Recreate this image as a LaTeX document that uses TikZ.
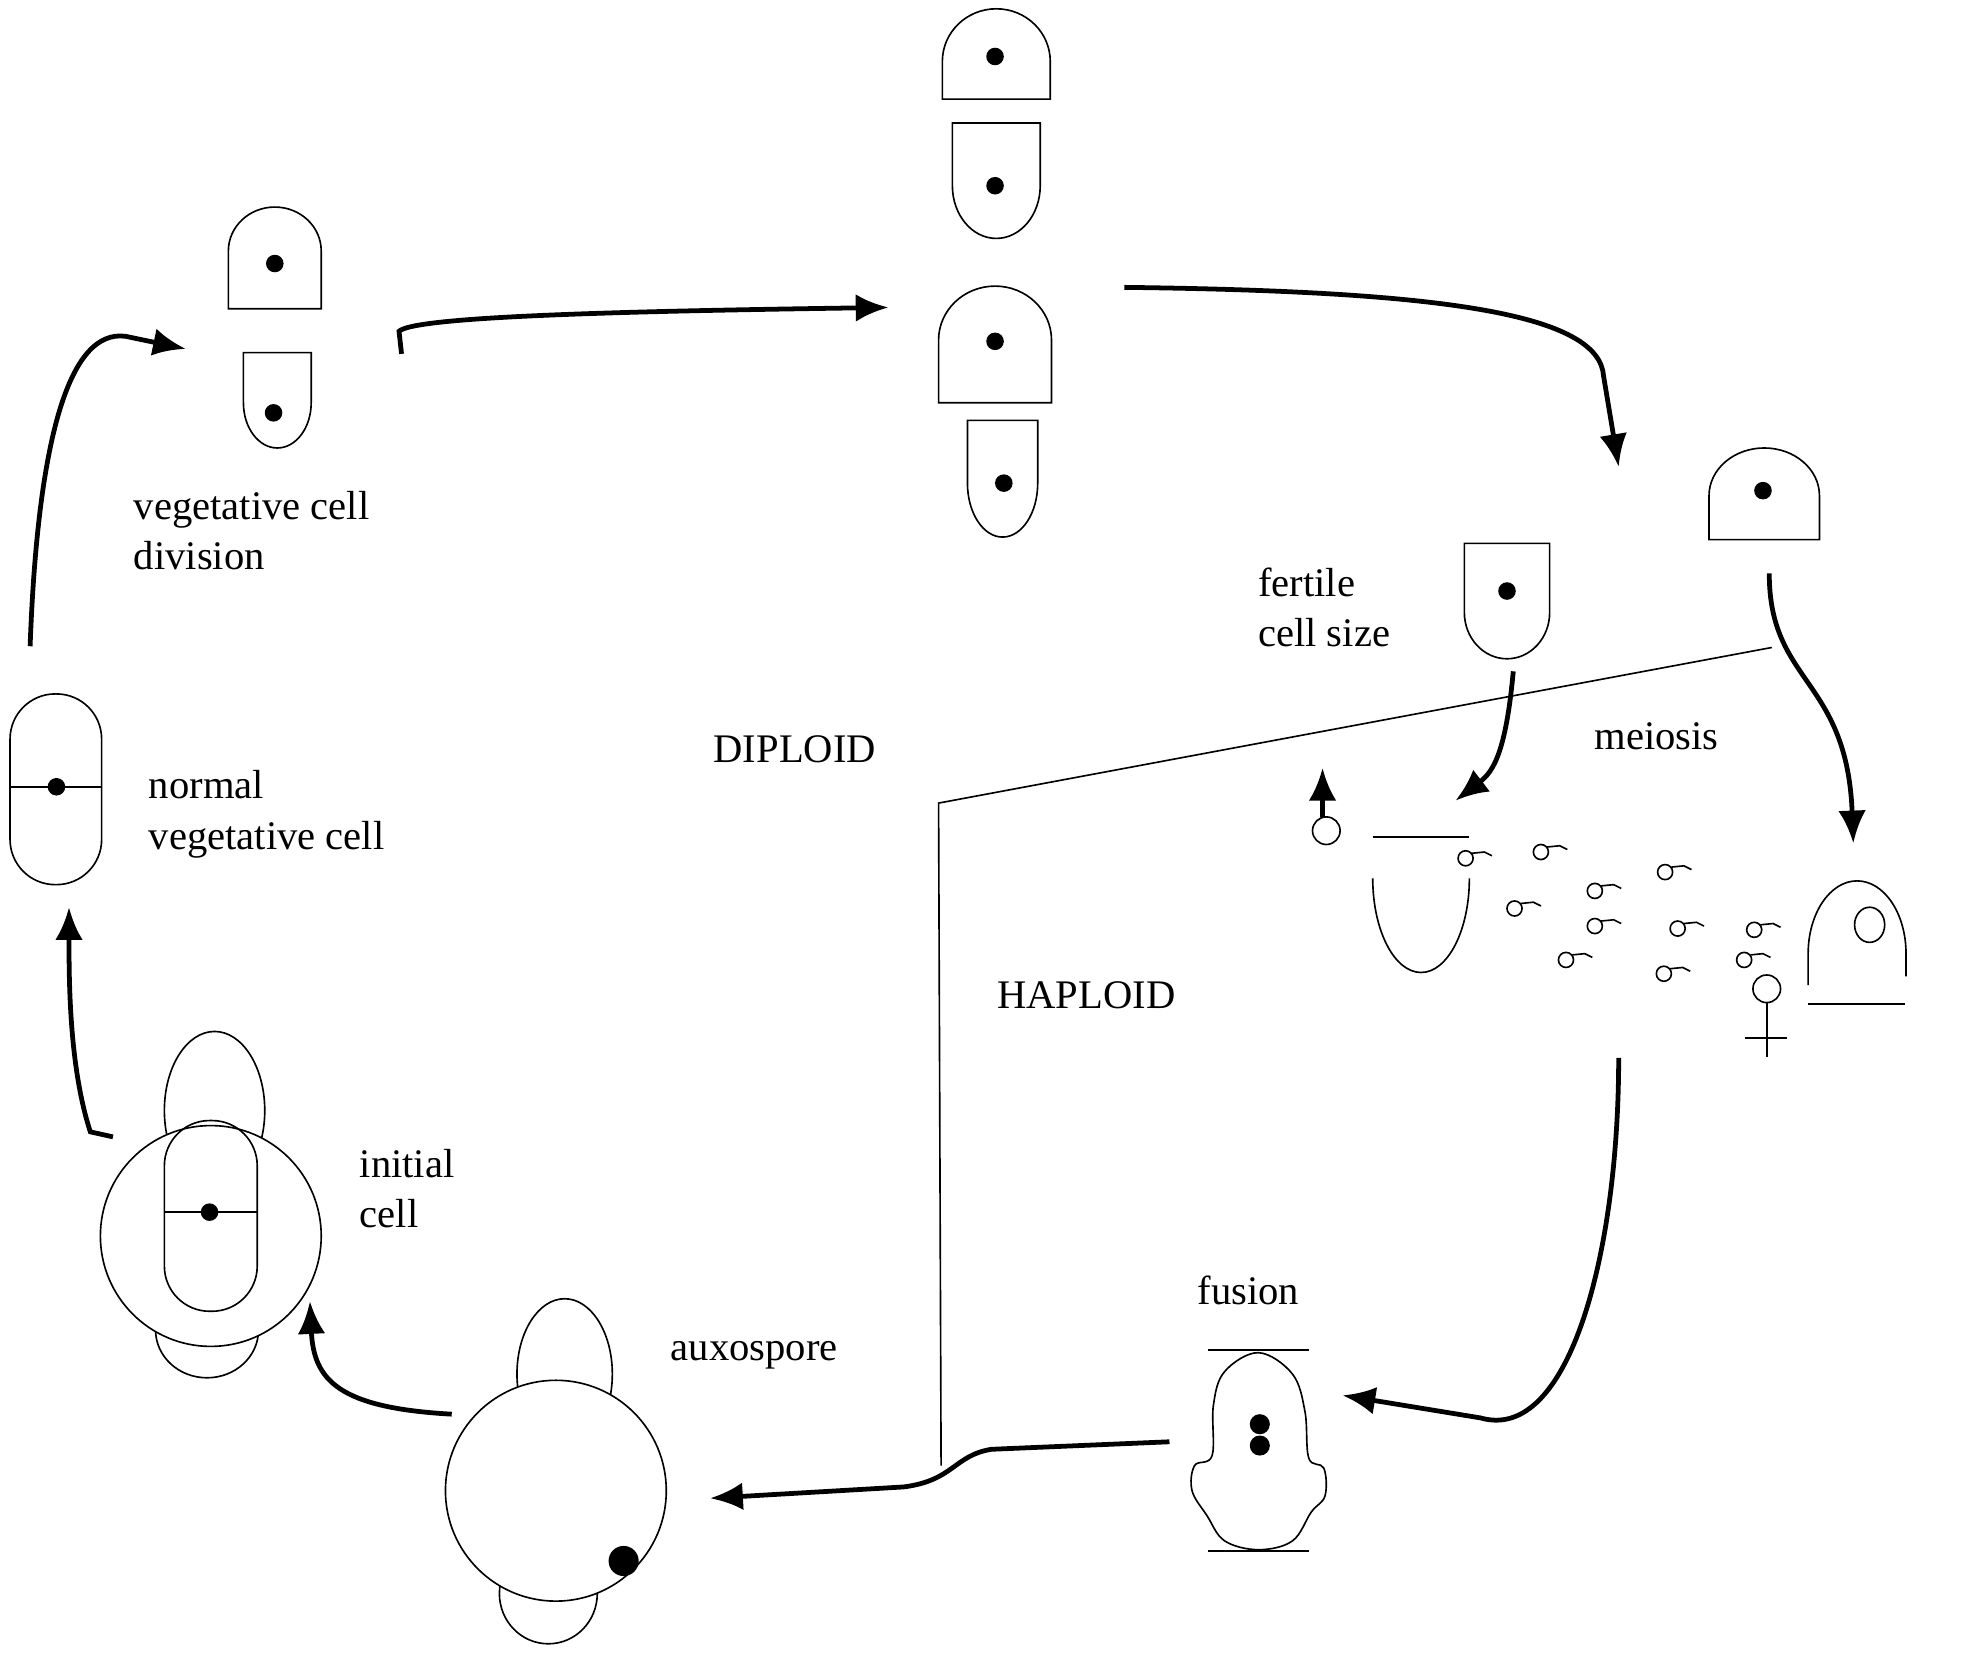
\documentclass[tikz,border=0pt]{standalone}
\usepackage{fontspec}
\setmainfont{Liberation Serif}
\usetikzlibrary{arrows.meta}
\tikzset{
  thin line/.style={line width=0.13mm},
  cycle arrow/.style={line width=0.38mm,-{Latex[length=2.6mm,width=2.2mm]}},
  lbl/.style={font=\fontsize{9.2}{11.4}\selectfont,align=left,anchor=west,inner sep=0pt},
  sperm/.pic={
    \draw[thin line] (0,0) circle (6);
    \draw[thin line] (5,-4) -- (15,-5) -- (21,-2);
  }
}
% dome cell: centre x, base y, half width, side height, dome height
\newcommand\domecell[5]{%
  \draw[thin line] (#1-#3,#2) -- (#1+#3,#2) -- (#1+#3,#2-#4)
    arc[start angle=0,end angle=-180,x radius=#3,y radius=#5] -- cycle;}
% cup cell: centre x, top y, half width, side height, cup depth
\newcommand\cupcell[5]{%
  \draw[thin line] (#1-#3,#2) -- (#1+#3,#2) -- (#1+#3,#2+#4)
    arc[start angle=0,end angle=180,x radius=#3,y radius=#5] -- cycle;}

\begin{document}
\begin{tikzpicture}[x=0.01cm,y=-0.01cm]
  \useasboundingbox (0,0) rectangle (1570,1332);

  % vegetative cell division
  \domecell{219}{246}{37}{46}{35}
  \fill (219,210) circle (7);
  \cupcell{221}{281}{27}{40}{36}
  \fill (218,329) circle (7);

  \domecell{794}{79}{43}{30}{42}
  \fill (793,45) circle (7);
  \cupcell{794}{98}{35}{50}{42}
  \fill (793,148) circle (7);
  \domecell{793}{321}{45}{50}{43}
  \fill (793,272) circle (7);
  \cupcell{799}{335}{28}{50}{43}
  \fill (800,385) circle (7);

  \domecell{1406}{430}{44}{35}{38}
  \fill (1405,391) circle (7);
  \cupcell{1201}{433}{34}{55}{37}
  \fill (1201,471) circle (7);

  % normal vegetative cell
  \draw[thin line,rounded corners=3.6mm] (8,553) rectangle (81,705);
  \draw[thin line] (8,627) -- (81,627);
  \fill (45,627) circle (7);

  % initial cell
  \draw[thin line] (171,885) ellipse [x radius=40,y radius=63];
  \draw[thin line] (165,1060) ellipse [x radius=41,y radius=38];
  \draw[thin line,fill=white] (168,985) circle (88);
  \draw[thin line,rounded corners=3.6mm] (131,893) rectangle (205,1045);
  \draw[thin line] (131,966) -- (205,966);
  \fill (167,966) circle (7);

  % auxospore
  \draw[thin line] (450,1095) ellipse [x radius=38,y radius=60];
  \draw[thin line] (437,1270) ellipse [x radius=39,y radius=40];
  \draw[thin line,fill=white] (443,1188) circle (88);
  \fill (497,1244) circle (12);

  % fusion
  \draw[thin line] (963,1076) -- (1043,1076);
  \draw[thin line] (963,1236) -- (1043,1236);
  \draw[thin line] plot[smooth cycle,tension=0.6] coordinates {
    (1003,1078) (1030,1095) (1040,1125) (1043,1162) (1055,1170) (1056,1192)
    (1045,1205) (1030,1228) (1003,1235) (976,1228) (962,1208) (950,1188)
    (952,1168) (966,1160) (967,1120) (976,1093)};
  \fill (1004,1135) circle (8);
  \fill (1004,1152) circle (8);

  % gametes
  \draw[thin line] (1057,662) circle (11);
  \draw[cycle arrow] (1054,651) -- (1054,612);
  \draw[thin line] (1094,667) -- (1171,667);
  \draw[thin line] (1171,700) arc[start angle=0,end angle=180,x radius=38.5,y radius=75];
  \draw[thin line] (1441,785) -- (1441,760)
    arc[start angle=180,end angle=360,x radius=39,y radius=58] -- (1519,778);
  \draw[thin line] (1490,737) ellipse [x radius=12,y radius=14];
  \draw[thin line] (1441,800) -- (1518,800);
  \draw[thin line] (1408,788) circle (11);
  \draw[thin line] (1408,799) -- (1408,842);
  \draw[thin line] (1391,827) -- (1424,827);
  \foreach \sx/\sy in {1168/684,1228/679,1327/695,1271/710,1207/724,1271/738,
                       1337/740,1398/741,1248/765,1390/765,1326/776}
    \pic at (\sx,\sy) {sperm};

  % ploidy boundary
  \draw[thin line] (1412,516) -- (748,640) -- (750,1168);

  % cycle arrows
  \draw[cycle arrow] (24,515) .. controls (30,350) and (55,262) .. (100,268) -- (148,278);
  \draw[cycle arrow] (320,282) -- (318,264) .. controls (330,252) and (500,248) .. (708,245);
  \draw[cycle arrow] (896,229) .. controls (1150,232) and (1275,250) .. (1278,300) -- (1290,372);
  \draw[cycle arrow] (1206,535) .. controls (1200,600) and (1190,615) .. (1160,638);
  \draw[cycle arrow] (1410,457) .. controls (1410,545) and (1472,540) .. (1477,672);
  \draw[cycle arrow] (1290,843) .. controls (1290,1000) and (1250,1150) .. (1180,1130) -- (1070,1112);
  \draw[cycle arrow] (932,1149) -- (790,1155) .. controls (760,1160) and (760,1180) .. (720,1185) -- (566,1194);
  \draw[cycle arrow] (360,1127) .. controls (270,1122) and (250,1100) .. (247,1037);
  \draw[cycle arrow] (90,906) -- (72,902) .. controls (55,850) and (55,780) .. (55,723);

  % labels
  \node[lbl] (divlbl) at (106,423) {vegetative cell\\division};
  \node[lbl] (normlbl) at (118,649) {normal\\vegetative cell};
  \node[lbl] (initlbl) at (286,947) {initial\\cell};
  \node[lbl] (auxlbl) at (534,1080) {auxospore};
  \node[lbl,anchor=center] (fuslbl) at (995,1028) {fusion};
  \node[lbl] (diplbl) at (568,597) {DIPLOID};
  \node[lbl] (haplbl) at (794,793) {HAPLOID};
  \node[lbl] (fertlbl) at (1002,484) {fertile\\cell size};
  \node[lbl] (meilbl) at (1270,587) {meiosis};
\end{tikzpicture}
\end{document}
